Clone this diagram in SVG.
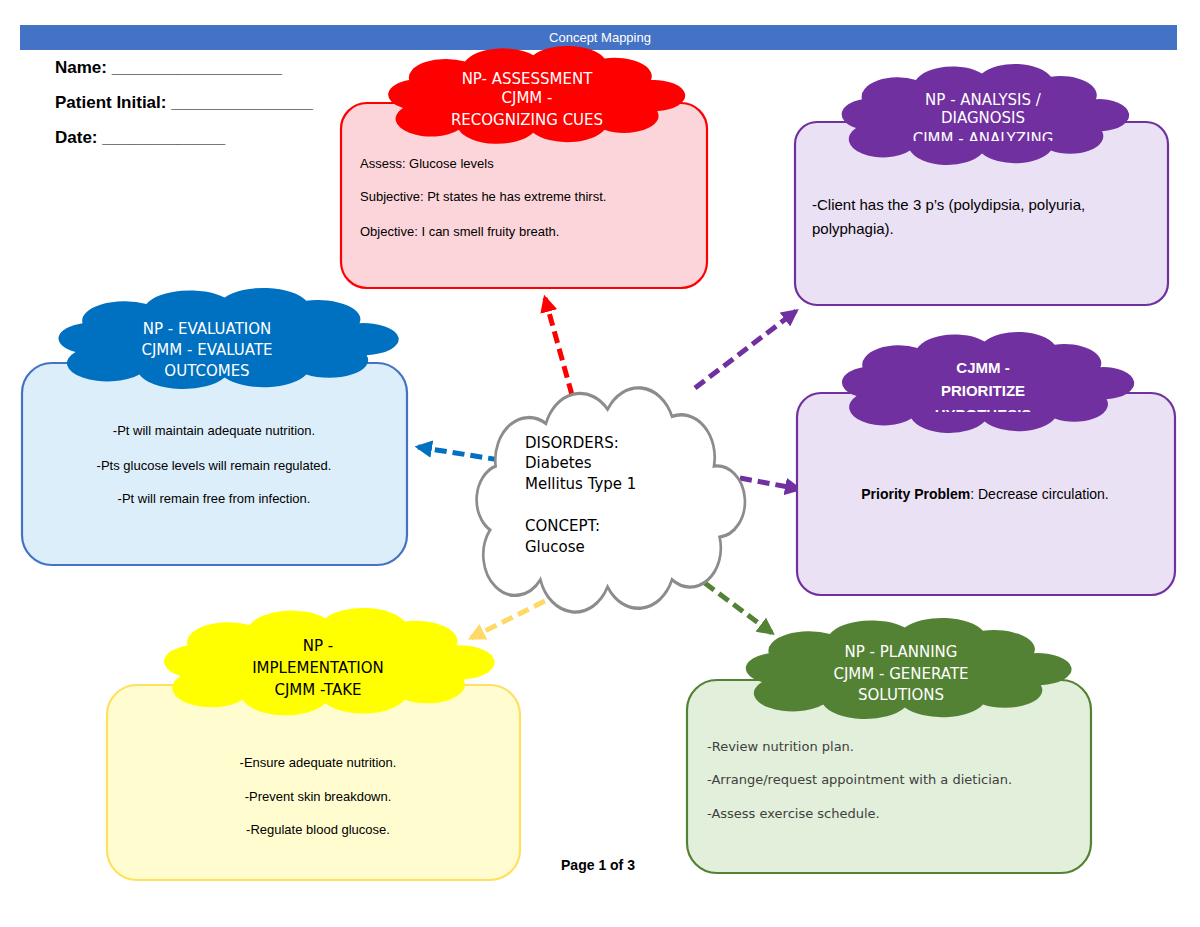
<svg xmlns="http://www.w3.org/2000/svg" width="1200" height="927" viewBox="0 0 1200 927">
<style>
text{font-family:"DejaVu Sans","Liberation Sans",sans-serif}
.c{font-family:"Liberation Sans",Arial,sans-serif}
.hd{font-size:15px;text-anchor:middle;fill:#fff}
.b13{font-size:13px;fill:#000}
.box{stroke-width:2.2}
.ar{fill:none;stroke-width:5;stroke-dasharray:12 6}
</style>
<defs>
<path id="cloud" d="M10,40 A10,10 0 0 1 12,22 A12,12 0 0 1 30,10 A13,13 0 0 1 52,6 A13,13 0 0 1 75,8 A12,12 0 0 1 90,22 A10,10 0 0 1 92,42 A11,11 0 0 1 75,54 A13,13 0 0 1 52,56 A13,13 0 0 1 28,54 A11,11 0 0 1 10,40 Z"/>
<marker id="mr" viewBox="0 0 10 10" refX="8" refY="5" markerWidth="3.5" markerHeight="3.5" orient="auto"><path d="M0,0L10,5L0,10Z" fill="#FF0000"/></marker>
<marker id="mp" viewBox="0 0 10 10" refX="8" refY="5" markerWidth="3.5" markerHeight="3.5" orient="auto"><path d="M0,0L10,5L0,10Z" fill="#7030A0"/></marker>
<marker id="mb" viewBox="0 0 10 10" refX="8" refY="5" markerWidth="3.5" markerHeight="3.5" orient="auto"><path d="M0,0L10,5L0,10Z" fill="#0070C0"/></marker>
<marker id="my" viewBox="0 0 10 10" refX="8" refY="5" markerWidth="3.5" markerHeight="3.5" orient="auto"><path d="M0,0L10,5L0,10Z" fill="#FFD966"/></marker>
<marker id="mg" viewBox="0 0 10 10" refX="8" refY="5" markerWidth="3.5" markerHeight="3.5" orient="auto"><path d="M0,0L10,5L0,10Z" fill="#548235"/></marker>
<clipPath id="ca"><rect x="830" y="60" width="300" height="81"/></clipPath>
<clipPath id="cp"><rect x="830" y="330" width="300" height="82"/></clipPath>
</defs>
<rect x="20" y="25" width="1157" height="25" fill="#4472C4"/>
<text class="c" x="600" y="42" font-size="13" fill="#fff" text-anchor="middle">Concept Mapping</text>
<g font-size="17" font-weight="bold" class="c">
<text class="c" x="55" y="73">Name:  __________________</text>
<text class="c" x="55" y="108">Patient Initial: _______________</text>
<text class="c" x="55" y="143">Date: _____________</text>
</g>
<g id="connectors">
<line class="ar" x1="572" y1="395" x2="545" y2="298" stroke="#FF0000" marker-end="url(#mr)"/>
<line class="ar" x1="695" y1="388" x2="796" y2="311" stroke="#7030A0" marker-end="url(#mp)"/>
<line class="ar" x1="500" y1="460" x2="418" y2="447" stroke="#0070C0" marker-end="url(#mb)"/>
<line class="ar" x1="740" y1="478" x2="799" y2="489" stroke="#7030A0" stroke-dasharray="5 4" marker-end="url(#mp)"/>
<line class="ar" x1="577" y1="585" x2="471" y2="638" stroke="#FFD966" marker-end="url(#my)"/>
<line class="ar" x1="690" y1="572" x2="772" y2="633" stroke="#548235" marker-end="url(#mg)"/>
</g>
<g id="assessment">
<rect class="box" x="341" y="103" width="366" height="185" rx="26" fill="#FCD5DA" stroke="#FF0000"/>
<use href="#cloud" transform="translate(372,46) scale(3.1,1.55)" fill="#FF0000"/>
<text class="hd" x="527" y="84">NP- ASSESSMENT</text>
<text class="hd" x="527" y="103">CJMM -</text>
<text class="hd" x="527" y="125">RECOGNIZING CUES</text>
<text class="c b13" x="360" y="168">Assess: Glucose levels</text>
<text class="c b13" x="360" y="201">Subjective: Pt states he has extreme thirst.</text>
<text class="c b13" x="360" y="236">Objective: I can smell fruity breath.</text>
</g>
<g id="analysis">
<rect class="box" x="795" y="122" width="373" height="183" rx="22" fill="#EBE1F5" stroke="#7030A0"/>
<use href="#cloud" transform="translate(826,64) scale(3.0,1.6)" fill="#7030A0"/>
<g clip-path="url(#ca)">
<text class="hd" x="983" y="105">NP - ANALYSIS /</text>
<text class="hd" x="983" y="123">DIAGNOSIS</text>
<text class="hd" x="983" y="144">CJMM - ANALYZING</text>
</g>
<text class="c" x="812" y="210" font-size="15">-Client has the 3 p’s (polydipsia, polyuria,</text>
<text class="c" x="812" y="234" font-size="15">polyphagia).</text>
</g>
<g id="prioritize">
<rect class="box" x="797" y="393" width="378" height="202" rx="24" fill="#EBE1F5" stroke="#7030A0"/>
<use href="#cloud" transform="translate(826,332) scale(3.05,1.6)" fill="#7030A0"/>
<g clip-path="url(#cp)" font-weight="bold">
<text class="c hd" x="983" y="373" font-size="18">CJMM -</text>
<text class="c hd" x="983" y="396" font-size="18">PRIORITIZE</text>
<text class="c hd" x="983" y="420" font-size="18">HYPOTHESIS</text>
</g>
<text class="c" x="985" y="499" font-size="14" text-anchor="middle"><tspan font-weight="bold">Priority Problem</tspan>: Decrease circulation.</text>
</g>
<g id="evaluation">
<rect class="box" x="22" y="363" width="385" height="202" rx="30" fill="#DDEEFB" stroke="#4472C4"/>
<use href="#cloud" transform="translate(40,288) scale(3.55,1.6)" fill="#0070C0"/>
<text class="hd" x="207" y="334">NP - EVALUATION</text>
<text class="hd" x="207" y="355">CJMM - EVALUATE</text>
<text class="hd" x="207" y="376">OUTCOMES</text>
<text class="c b13" x="214" y="435" text-anchor="middle">-Pt will maintain adequate nutrition.</text>
<text class="c b13" x="214" y="470" text-anchor="middle">-Pts glucose levels will remain regulated.</text>
<text class="c b13" x="214" y="503" text-anchor="middle">-Pt will remain free from infection.</text>
</g>
<g id="implementation">
<rect class="box" x="107" y="685" width="413" height="195" rx="30" fill="#FFFDD0" stroke="#FFE060"/>
<use href="#cloud" transform="translate(146,608) scale(3.45,1.7)" fill="#FFFF00"/>
<text class="hd" x="318" y="651" style="fill:#000">NP -</text>
<text class="hd" x="318" y="673" style="fill:#000">IMPLEMENTATION</text>
<text class="hd" x="318" y="695" style="fill:#000">CJMM -TAKE</text>
<text class="c b13" x="318" y="767" text-anchor="middle">-Ensure adequate nutrition.</text>
<text class="c b13" x="318" y="801" text-anchor="middle">-Prevent skin breakdown.</text>
<text class="c b13" x="318" y="834" text-anchor="middle">-Regulate blood glucose.</text>
</g>
<g id="planning">
<rect class="box" x="687" y="680" width="404" height="193" rx="30" fill="#E2EFDA" stroke="#548235"/>
<use href="#cloud" transform="translate(728,618) scale(3.4,1.6)" fill="#548235"/>
<text class="hd" x="901" y="657">NP - PLANNING</text>
<text class="hd" x="901" y="679">CJMM - GENERATE</text>
<text class="hd" x="901" y="700">SOLUTIONS</text>
<text x="707" y="751" font-size="13" fill="#404040">-Review nutrition plan.</text>
<text x="707" y="784" font-size="13" fill="#404040">-Arrange/request appointment with a dietician.</text>
<text x="707" y="818" font-size="13" fill="#404040">-Assess exercise schedule.</text>
</g>
<g id="center">
<use href="#cloud" transform="translate(462,388) scale(2.8,3.55)" fill="#fff" stroke="#8C8C8C" stroke-width="0.95"/>
<g font-size="15" fill="#000">
<text x="525" y="448">DISORDERS:</text>
<text x="525" y="468">Diabetes</text>
<text x="525" y="489">Mellitus Type 1</text>
<text x="525" y="531">CONCEPT:</text>
<text x="525" y="552">Glucose</text>
</g>
</g>
<text class="c" x="598" y="870" font-size="14" font-weight="bold" text-anchor="middle">Page 1 of 3</text>
</svg>
